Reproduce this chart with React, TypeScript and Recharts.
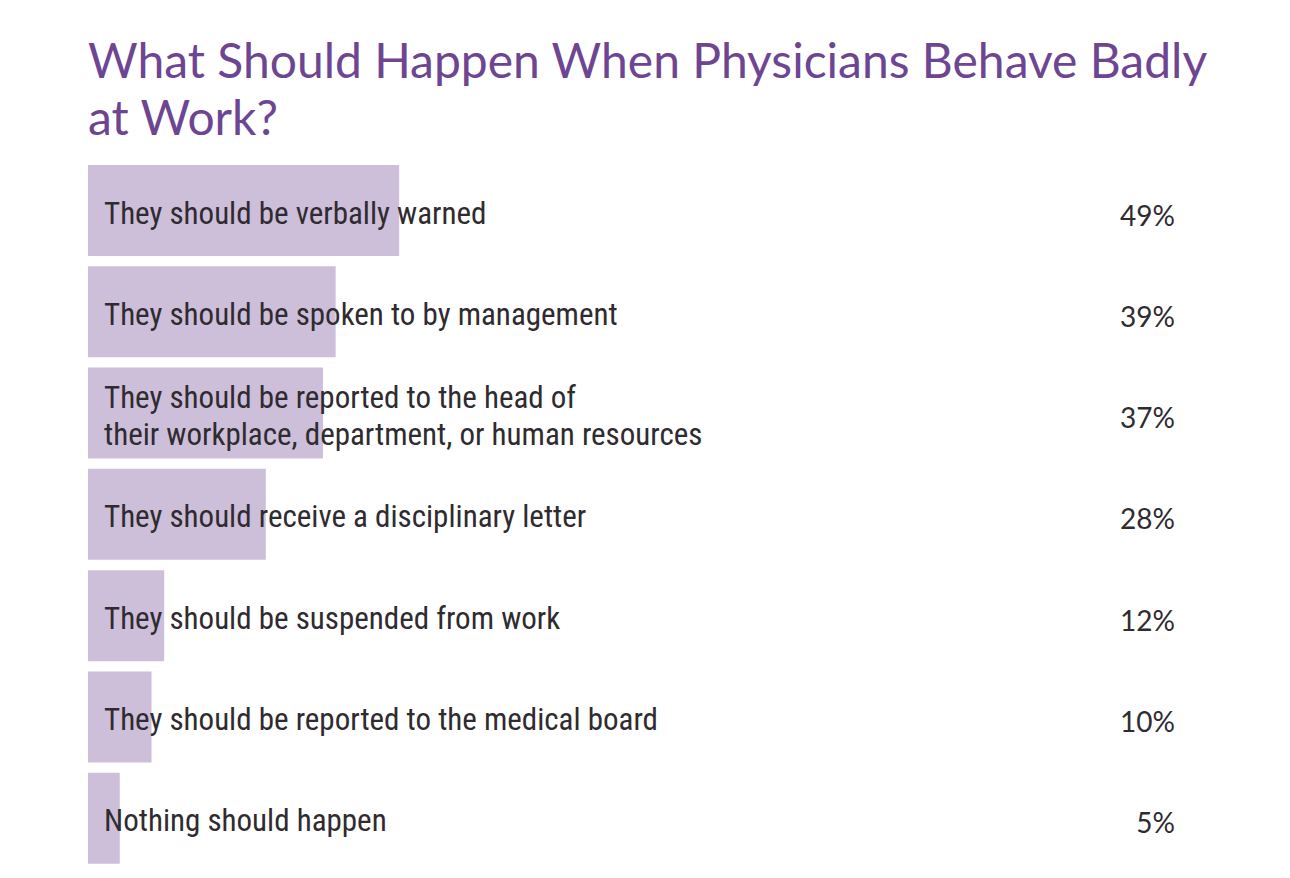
import React from 'react';
import { BarChart, Bar, XAxis, YAxis, LabelList } from 'recharts';

const TITLE_LINES = ['What Should Happen When Physicians Behave Badly', 'at Work?'];

const categories = [
  'They should be verbally warned',
  'They should be spoken to by management',
  'They should be reported to the head of\ntheir workplace, department, or human resources',
  'They should receive a disciplinary letter',
  'They should be suspended from work',
  'They should be reported to the medical board',
  'Nothing should happen',
];

const shares = [49, 39, 37, 28, 12, 10, 5];

const data = categories.map((name, i) => ({ name, value: shares[i] }));

const PURPLE = '#6d4592';
const BAR = '#cdbed9';
const TEXT = '#2f2b30';
const LABEL_FONT = "'Roboto Condensed', 'Liberation Sans Narrow', 'Arial Narrow', 'DejaVu Sans Condensed', Roboto, sans-serif";
const PCT_FONT = "Lato, 'Open Sans', sans-serif";
const PCT_RIGHT = 1175;
const LINE_GAP = 37;

// category text drawn over the bar, starting a bit inside its left edge
const NameLabel = (props: any) => {
  const { x, y, height, value } = props;
  const lines = String(value).split('\n');
  const cy = y + height / 2;
  const first = cy + 13 - ((lines.length - 1) * LINE_GAP) / 2;
  return (
    <text x={x + 16} y={first} fill={TEXT} fontSize={31} fontFamily={LABEL_FONT}>
      {lines.map((l, i) => (
        <tspan key={i} x={x + 16} dy={i === 0 ? 0 : LINE_GAP}>{l}</tspan>
      ))}
    </text>
  );
};

const PctLabel = (props: any) => {
  const { y, height, value } = props;
  return (
    <text x={PCT_RIGHT} y={y + height / 2 + 15} textAnchor="end" fill={TEXT} fontSize={28} fontFamily={PCT_FONT}>
      {value}%
    </text>
  );
};

export default function App() {
  return (
    <div style={{ position: 'absolute', left: 0, top: 0, width: 1290, height: 878, background: '#fff', overflow: 'hidden' }}>
      <div
        style={{
          position: 'absolute',
          left: 88,
          top: 31,
          color: PURPLE,
          fontFamily: "Lato, 'Open Sans', sans-serif",
          fontSize: 48,
          lineHeight: '57px',
          whiteSpace: 'nowrap',
        }}
      >
        {TITLE_LINES.map((t, i) => (
          <div key={i}>{t}</div>
        ))}
      </div>
      <BarChart
        width={1290}
        height={878}
        data={data}
        layout="vertical"
        margin={{ top: 160, right: 567, bottom: 9, left: 88 }}
        barCategoryGap={5}
        style={{ position: 'absolute', left: 0, top: 0 }}
      >
        <XAxis type="number" domain={[0, 100]} hide />
        <YAxis type="category" dataKey="name" hide />
        <Bar dataKey="value" fill={BAR} isAnimationActive={false}>
          <LabelList dataKey="name" content={<NameLabel />} />
          <LabelList dataKey="value" content={<PctLabel />} />
        </Bar>
      </BarChart>
    </div>
  );
}
